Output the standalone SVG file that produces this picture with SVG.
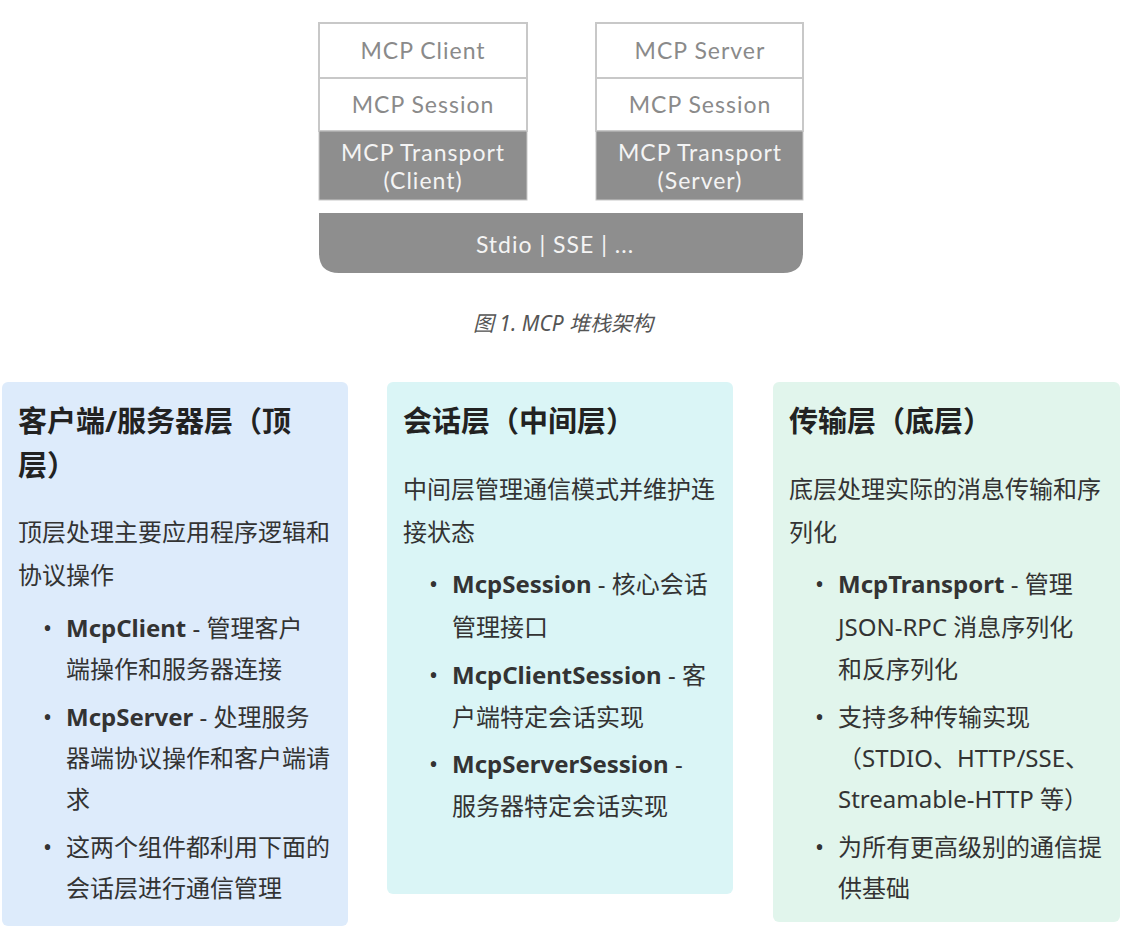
<svg xmlns="http://www.w3.org/2000/svg" width="1126" height="930" viewBox="0 0 1126 930">
<style>
.lt{fill:#fff;stroke:#c8c8c8;stroke-width:2}
.dk{fill:#8e8e8e;stroke:#c8c8c8;stroke-width:1}
.dt{font-family:"Lato","Noto Sans",sans-serif;font-size:23px;text-anchor:middle;letter-spacing:1px}
.g{fill:#8a8a8a}.w{fill:#f4f4f4}
.h{font-family:"Noto Sans","Noto Sans CJK SC",sans-serif;font-size:29px;font-weight:bold;fill:#222}
.b{font-family:"Noto Sans","Noto Sans CJK SC",sans-serif;font-size:24px;fill:#333}
.s{font-weight:bold}
</style>
<rect width="1126" height="930" fill="#fff"/>
<g id="client-stack">
<rect class="lt" x="319" y="23" width="208" height="55"/>
<rect class="lt" x="319" y="78" width="208" height="53"/>
<rect class="dk" x="319" y="131" width="208" height="69"/>
<text class="dt g" x="423" y="59">MCP Client</text>
<text class="dt g" x="423" y="113">MCP Session</text>
<text class="dt w" x="423" y="161">MCP Transport</text>
<text class="dt w" x="423" y="189">(Client)</text>
</g>
<g id="server-stack">
<rect class="lt" x="596" y="23" width="207" height="55"/>
<rect class="lt" x="596" y="78" width="207" height="53"/>
<rect class="dk" x="596" y="131" width="207" height="69"/>
<text class="dt g" x="700" y="59">MCP Server</text>
<text class="dt g" x="700" y="113">MCP Session</text>
<text class="dt w" x="700" y="161">MCP Transport</text>
<text class="dt w" x="700" y="189">(Server)</text>
</g>
<g id="transport-bar">
<path d="M319 213H803V253Q803 273 783 273H339Q319 273 319 253Z" fill="#8e8e8e"/>
<text class="dt w" x="555" y="253">Stdio | SSE | ...</text>
</g>
<text x="563" y="331" font-family="'Noto Sans','Noto Sans CJK SC',sans-serif" font-size="21" font-style="italic" fill="#555" text-anchor="middle">图 1. MCP 堆栈架构</text>
<g id="panel-top">
<rect x="2" y="382" width="346" height="544" rx="6" fill="#ddebfb"/>
<text class="h" x="18" y="432">客户端/服务器层（顶</text>
<text class="h" x="18" y="476">层）</text>
<text class="b" x="18" y="541">顶层处理主要应用程序逻辑和</text>
<text class="b" x="18" y="584">协议操作</text>
<text class="b" x="43" y="637">•</text><text class="b" x="66" y="637"><tspan class="s">McpClient</tspan> - 管理客户</text>
<text class="b" x="66" y="678">端操作和服务器连接</text>
<text class="b" x="43" y="726">•</text><text class="b" x="66" y="726"><tspan class="s">McpServer</tspan> - 处理服务</text>
<text class="b" x="66" y="767">器端协议操作和客户端请</text>
<text class="b" x="66" y="808">求</text>
<text class="b" x="43" y="856">•</text><text class="b" x="66" y="856">这两个组件都利用下面的</text>
<text class="b" x="66" y="897">会话层进行通信管理</text>
</g>
<g id="panel-session">
<rect x="387" y="382" width="346" height="512" rx="6" fill="#daf5f6"/>
<text class="h" x="403" y="432">会话层（中间层）</text>
<text class="b" x="403" y="498">中间层管理通信模式并维护连</text>
<text class="b" x="403" y="541">接状态</text>
<text class="b" x="429" y="593">•</text><text class="b" x="452" y="593"><tspan class="s">McpSession</tspan> - 核心会话</text>
<text class="b" x="452" y="636">管理接口</text>
<text class="b" x="429" y="684">•</text><text class="b" x="452" y="684"><tspan class="s">McpClientSession</tspan> - 客</text>
<text class="b" x="452" y="726">户端特定会话实现</text>
<text class="b" x="429" y="773">•</text><text class="b" x="452" y="773"><tspan class="s">McpServerSession</tspan> -</text>
<text class="b" x="452" y="815">服务器特定会话实现</text>
</g>
<g id="panel-transport">
<rect x="773" y="382" width="347" height="540" rx="6" fill="#e1f5ec"/>
<text class="h" x="789" y="432">传输层（底层）</text>
<text class="b" x="789" y="498">底层处理实际的消息传输和序</text>
<text class="b" x="789" y="541">列化</text>
<text class="b" x="815" y="593">•</text><text class="b" x="838" y="593"><tspan class="s">McpTransport</tspan> - 管理</text>
<text class="b" x="838" y="636">JSON-RPC 消息序列化</text>
<text class="b" x="838" y="678">和反序列化</text>
<text class="b" x="815" y="726">•</text><text class="b" x="838" y="726">支持多种传输实现</text>
<text class="b" x="838" y="767">（STDIO、HTTP/SSE、</text>
<text class="b" x="838" y="808">Streamable-HTTP 等）</text>
<text class="b" x="815" y="856">•</text><text class="b" x="838" y="856">为所有更高级别的通信提</text>
<text class="b" x="838" y="897">供基础</text>
</g>
</svg>
